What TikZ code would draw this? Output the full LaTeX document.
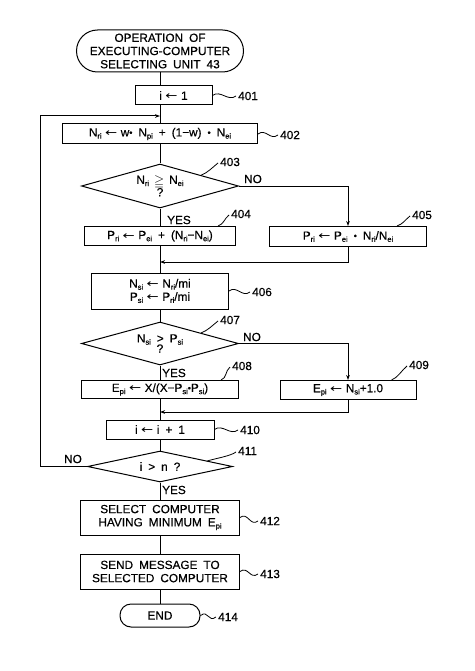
\documentclass[tikz,border=0pt]{standalone}
\usepackage{fontspec}
\usepackage{amssymb}
\usepackage{graphicx}
\setmainfont{Liberation Sans}[FakeBold=0.4]
\newfontfamily\symf{DejaVu Sans}
\usetikzlibrary{shapes.geometric,arrows.meta,calc}
\newcommand\sbx[1]{\raisebox{-0.35ex}{\fontsize{7.5}{8}\selectfont #1}}
\newcommand\la{\hspace{3.5pt}{\symf\fontsize{10}{10}\selectfont\scalebox{1.45}[1.1]{←}}\hspace{3.5pt}}
\newcommand\bul{{\fontsize{9}{9}\selectfont\raisebox{0.15ex}{•}}}
\newcommand\gq{\hspace{5pt}\raisebox{-0.3ex}{\scalebox{1.1}{$\geqq$}}\hspace{5pt}}
\newcommand\nodefont{\fontsize{11.8}{13.2}\selectfont\spaceskip 6pt plus 1pt minus 1pt\relax}
\tikzset{
  every node/.style={font=\nodefont, inner sep=0pt},
  box/.style={draw, line width=1pt, rectangle, align=center},
  term/.style={draw, line width=1pt, rectangle, rounded corners=11pt, align=center},
  dec/.style={draw, line width=1pt, diamond, align=center},
  lbl/.style={},
  flow/.style={line width=1pt},
  arr/.style={line width=1pt, -{Stealth[length=5pt,width=3.6pt]}},
  sq/.style={line width=0.8pt}
}
\begin{document}
\begin{tikzpicture}[x=1pt,y=-1pt]
\useasboundingbox (0,0) rectangle (474,671);
% shapes
\node[term, rounded corners=21pt, minimum width=167pt, minimum height=42pt] (start) at (160,51)
  {OPERATION OF\\EXECUTING-COMPUTER\\SELECTING UNIT 43};
\node[box, minimum width=77pt, minimum height=19pt] (b401) at (173.5,95.5) {i\la 1};
\node[box, minimum width=195pt, minimum height=20pt] (b402) at (160,134)
  {N\sbx{ri}\la w\bul{} N\sbx{pi} + (1−w) \bul{} N\sbx{ei}};
\node[dec, minimum width=157pt, minimum height=44pt, shape aspect=3.57] (d403) at (160,186)
  {N\sbx{ri}\gq N\sbx{ei}\\[-2pt]?};
\node[box, minimum width=151pt, minimum height=19pt] (b404) at (160,236)
  {P\sbx{ri}\la P\sbx{ei} + (N\sbx{ri}−N\sbx{ei})};
\node[box, minimum width=157pt, minimum height=20pt] (b405) at (348,236.5)
  {P\sbx{ri}\la P\sbx{ei} \bul{} N\sbx{ri}/N\sbx{ei}};
\coordinate (m1) at (160,262);
\node[box, minimum width=137pt, minimum height=36pt] (b406) at (160,291)
  {N\sbx{si}\la N\sbx{ri}/mi\\P\sbx{si}\la P\sbx{ri}/mi};
\node[dec, minimum width=157pt, minimum height=43pt, shape aspect=3.57] (d407) at (160,343.5)
  {N\sbx{si} > P\sbx{si}\\[-3pt]?};
\node[box, minimum width=157pt, minimum height=18pt] (b408) at (160,389.5)
  {E\sbx{pi}\la X/(X−P\sbx{si}\bul{}P\sbx{si})};
\node[box, minimum width=136pt, minimum height=19pt] (b409) at (348,390)
  {E\sbx{pi}\la N\sbx{si}+1.0};
\coordinate (m2) at (160,412);
\node[box, minimum width=108pt, minimum height=19pt] (b410) at (160,429.5) {i\la i + 1};
\node[dec, minimum width=145pt, minimum height=31pt, shape aspect=4.5] (d411) at (160,466.5) {i > n ?};
\node[box, minimum width=159pt, minimum height=35pt] (b412) at (160,517.5)
  {SELECT COMPUTER\\HAVING MINIMUM E\sbx{pi}};
\node[box, minimum width=159pt, minimum height=35pt] (b413) at (160,571.5)
  {SEND MESSAGE TO\\SELECTED COMPUTER};
\node[term, minimum width=80pt, minimum height=23pt] (end) at (160,615.5) {END};
\coordinate (fbx) at (40,116);
\coordinate (fb) at (160,116);
% flow lines
\draw[flow] (start.south) -- (start.south |- b401.north);
\draw[flow] (b401.south -| b402.north) -- (b402.north);
\draw[arr] (d411.west) -- (d411.west -| fbx) -- (fbx) -- (fb);
\draw[flow] (b402.south) -- (d403.north);
\draw[flow] (d403.south) -- (b404.north);
\draw[arr] (d403.east) -| (b405.north);
\draw[arr] (b405.south) |- (m1);
\draw[flow] (b404.south) -- (b406.north);
\draw[flow] (b406.south) -- (d407.north);
\draw[flow] (d407.south) -- (b408.north);
\draw[arr] (d407.east) -| (b409.north);
\draw[arr] (b409.south) |- (m2);
\draw[flow] (b408.south) -- (b410.north);
\draw[flow] (b410.south) -- (d411.north);
\draw[flow] (d411.south) -- (b412.north);
\draw[flow] (b412.south) -- (b413.north);
\draw[flow] (b413.south) -- (end.north);
% branch labels
\node (no403) at (253,179) {NO};
\node (yes403) at (179,220) {YES};
\node (no407) at (252,337) {NO};
\node (yes407) at (174,373) {YES};
\node (no411) at (73,459) {NO};
\node (yes411) at (174,490) {YES};
% reference numerals
\node[lbl, anchor=west] (l401) at (238,96) {401};
\node[lbl, anchor=west] (l402) at (280,135) {402};
\node[lbl, anchor=west] (l403) at (220,162) {403};
\node[lbl, anchor=west] (l404) at (231,214) {404};
\node[lbl, anchor=west] (l405) at (412,215) {405};
\node[lbl, anchor=west] (l406) at (252,292) {406};
\node[lbl, anchor=west] (l407) at (220,320) {407};
\node[lbl, anchor=west] (l408) at (232,366) {408};
\node[lbl, anchor=west] (l409) at (409,365) {409};
\node[lbl, anchor=west] (l410) at (240,430) {410};
\node[lbl, anchor=west] (l411) at (238,451) {411};
\node[lbl, anchor=west] (l412) at (260,521) {412};
\node[lbl, anchor=west] (l413) at (260,574) {413};
\node[lbl, anchor=west] (l414) at (218,617) {414};
% leader squiggles
\draw[sq] (b401.east) .. controls +(8,-6) and +(-8,6) .. ($(l401.west)+(-2,0)$);
\draw[sq] (b402.east) .. controls +(8,-6) and +(-8,6) .. ($(l402.west)+(-2,0)$);
\draw[sq] (b406.east) .. controls +(8,-6) and +(-8,6) .. ($(l406.west)+(-2,0)$);
\draw[sq] (b410.east) .. controls +(8,-6) and +(-8,6) .. ($(l410.west)+(-2,0)$);
\draw[sq] (b412.east) .. controls +(8,-6) and +(-8,6) .. ($(l412.west)+(-2,0)$);
\draw[sq] (b413.east) .. controls +(8,-6) and +(-8,6) .. ($(l413.west)+(-2,0)$);
\draw[sq] (end.east) .. controls +(8,-6) and +(-8,6) .. ($(l414.west)+(-2,0)$);
\draw[sq] ($(d403.north)!0.52!(d403.east)$) .. controls +(6,-2) and +(-5,4) .. ($(l403.west)+(-2,1)$);
\draw[sq] ($(d407.north)!0.52!(d407.east)$) .. controls +(6,-2) and +(-5,4) .. ($(l407.west)+(-2,1)$);
\draw[sq] ($(d411.east)!0.35!(d411.north)$) .. controls +(6,-2) and +(-5,4) .. ($(l411.west)+(-2,1)$);
\draw[sq] ($(b404.north east)+(-18,0)$) .. controls +(6,-2) and +(-5,4) .. ($(l404.west)+(-2,1)$);
\draw[sq] ($(b405.north east)+(-30,0)$) .. controls +(6,-2) and +(-5,4) .. ($(l405.west)+(-2,1)$);
\draw[sq] ($(b408.north east)+(-18,0)$) .. controls +(6,-2) and +(-5,4) .. ($(l408.west)+(-2,1)$);
\draw[sq] ($(b409.north east)+(-25,0)$) .. controls +(6,-2) and +(-5,4) .. ($(l409.west)+(-2,1)$);
\end{tikzpicture}
\end{document}
